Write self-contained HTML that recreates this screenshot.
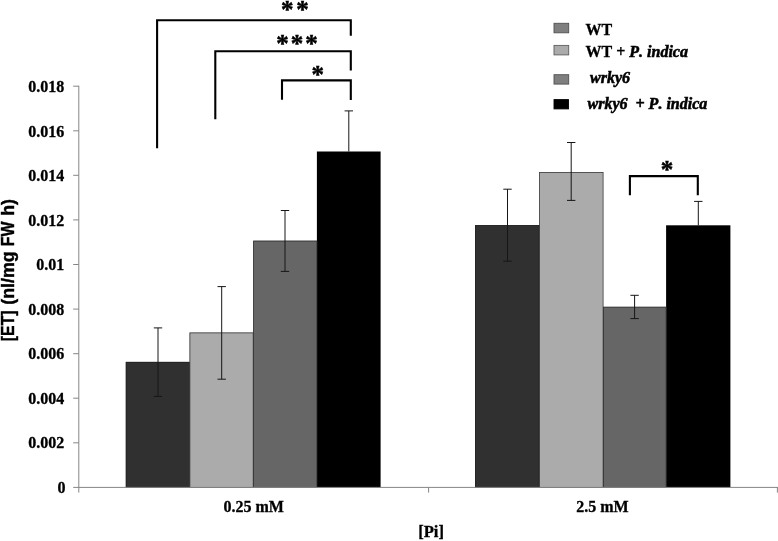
<!DOCTYPE html>
<html lang="en">
<head>
<meta charset="utf-8">
<title>[ET] vs [Pi] bar chart</title>
<style>
  html, body { margin: 0; padding: 0; background: #ffffff; }
  body { width: 778px; height: 541px; overflow: hidden; }
  svg { display: block; }
  .serif { font-family: "Liberation Serif", "DejaVu Serif", serif; font-weight: bold; fill: #000; stroke: #000; stroke-width: 0.3px; }
  .sans  { font-family: "Liberation Sans", "DejaVu Sans", sans-serif; font-weight: bold; fill: #000; stroke: #000; stroke-width: 0.4px; }
  .tick  { font-size: 16px; text-anchor: end; }
  .cat   { font-size: 16px; text-anchor: middle; }
  .leg   { font-size: 16px; }
  .star  { font-size: 25px; text-anchor: middle; stroke-width: 0.5px; }
  .it    { font-style: italic; stroke-width: 0.55px; }
  text   { font-kerning: none; }
</style>
</head>
<body>
<svg width="778" height="541" viewBox="0 0 778 541">
  <rect x="0" y="0" width="778" height="541" fill="#ffffff"/>

  <!-- bars -->
  <g stroke-width="0.8">
    <rect x="125.8" y="361.9" width="63.7" height="125.6" fill="#303030" stroke="none"/>
    <rect x="189.5" y="332.5" width="63.7" height="155.0" fill="#ababab" stroke="none"/>
    <rect x="253.2" y="240.7" width="63.7" height="246.8" fill="#666666" stroke="none"/>
    <rect x="316.9" y="151.5" width="63.7" height="336.0" fill="#000000" stroke="none"/>
    <rect x="475.0" y="225.1" width="64.2" height="262.4" fill="#303030" stroke="none"/>
    <rect x="539.2" y="172.1" width="63.9" height="315.4" fill="#ababab" stroke="none"/>
    <rect x="603.1" y="306.8" width="63.0" height="180.7" fill="#666666" stroke="none"/>
    <rect x="666.1" y="225.3" width="64.3" height="262.2" fill="#000000" stroke="none"/>
    <rect x="126.2" y="362.3" width="63.3" height="125.2" fill="none" stroke="#222222"/>
    <rect x="189.9" y="332.9" width="63.3" height="154.6" fill="none" stroke="#3c3c3c"/>
    <rect x="253.6" y="241.1" width="63.3" height="246.4" fill="none" stroke="#333333"/>
    <rect x="475.4" y="225.5" width="63.8" height="262.0" fill="none" stroke="#222222"/>
    <rect x="539.6" y="172.5" width="63.5" height="315.0" fill="none" stroke="#3c3c3c"/>
    <rect x="603.5" y="307.2" width="62.6" height="180.3" fill="none" stroke="#333333"/>
  </g>

  <!-- axes -->
  <g stroke="#868686" stroke-width="1" fill="none">
    <line x1="78.8" y1="85.7" x2="78.8" y2="492.6"/>
    <line x1="73.2" y1="487.4" x2="778" y2="487.4"/>
    <line x1="428.6" y1="487.4" x2="428.6" y2="492.6"/>
    <line x1="777.4" y1="487.4" x2="777.4" y2="492.6"/>
    <line x1="73.2" y1="442.8" x2="78.8" y2="442.8"/>
    <line x1="73.2" y1="398.2" x2="78.8" y2="398.2"/>
    <line x1="73.2" y1="353.7" x2="78.8" y2="353.7"/>
    <line x1="73.2" y1="309.1" x2="78.8" y2="309.1"/>
    <line x1="73.2" y1="264.5" x2="78.8" y2="264.5"/>
    <line x1="73.2" y1="219.9" x2="78.8" y2="219.9"/>
    <line x1="73.2" y1="175.3" x2="78.8" y2="175.3"/>
    <line x1="73.2" y1="130.8" x2="78.8" y2="130.8"/>
    <line x1="73.2" y1="86.2" x2="78.8" y2="86.2"/>
  </g>

  <!-- error bars -->
  <g stroke="#161616" stroke-width="1" fill="none">
    <path d="M158.0 327.9V396.4 M153.8 327.9H162.2 M153.8 396.4H162.2"/>
    <path d="M221.7 286.6V379.2 M217.5 286.6H225.9 M217.5 379.2H225.9"/>
    <path d="M285.0 210.5V271.4 M280.8 210.5H289.2 M280.8 271.4H289.2"/>
    <path d="M348.8 110.9V151.5 M344.6 110.9H353.0"/>
    <path d="M507.5 189.2V261.2 M503.3 189.2H511.7 M503.3 261.2H511.7"/>
    <path d="M571.2 142.5V200.4 M567.0 142.5H575.4 M567.0 200.4H575.4"/>
    <path d="M634.6 295.3V318.6 M630.4 295.3H638.8 M630.4 318.6H638.8"/>
    <path d="M698.3 201.4V225.3 M694.1 201.4H702.5"/>
  </g>

  <!-- significance brackets -->
  <g stroke="#000" stroke-width="2.1" fill="none" stroke-linejoin="miter">
    <path d="M157.1 148.3V20.3H350.8V35.7"/>
    <path d="M215.3 119.2V51.2H350.8V70.5"/>
    <path d="M282 99.7V80.4H350.8V99.9"/>
    <path d="M629.9 195.2V176.1H697.8V195.2"/>
  </g>
  <g class="serif star">
    <text x="296.2" y="17.8" letter-spacing="2.8">**</text>
    <text x="298" y="52" letter-spacing="2">***</text>
    <text x="317.8" y="83">*</text>
    <text x="667" y="178.2">*</text>
  </g>

  <!-- y tick labels -->
  <g class="serif tick">
    <text x="64.2" y="92">0.018</text>
    <text x="64.2" y="136.5">0.016</text>
    <text x="64.2" y="181">0.014</text>
    <text x="64.2" y="225.5">0.012</text>
    <text x="64.2" y="270">0.01</text>
    <text x="64.2" y="314.5">0.008</text>
    <text x="64.2" y="359">0.006</text>
    <text x="64.2" y="403.5">0.004</text>
    <text x="64.2" y="448">0.002</text>
    <text x="65.5" y="492.8">0</text>
  </g>

  <!-- category labels -->
  <g class="serif cat">
    <text x="253.6" y="512.2">0.25 mM</text>
    <text x="602.4" y="512.2">2.5 mM</text>
    <text x="431.1" y="537.4" font-size="16.6">[Pi]</text>
  </g>

  <!-- y axis title -->
  <g class="sans" font-size="17.5">
    <text transform="translate(14.4 341.3) rotate(-90) scale(0.903 1)">[ET]</text>
    <text transform="translate(14.4 304.7) rotate(-90) scale(1.019 1)">(nl/mg</text>
    <text transform="translate(14.4 246.2) rotate(-90) scale(0.904 1)">FW</text>
    <text transform="translate(14.4 215.8) rotate(-90) scale(1.013 1)">h)</text>
  </g>

  <!-- legend -->
  <g stroke-width="0.9">
    <rect x="554" y="23.3" width="14.7" height="9.5" fill="#7f7f7f" stroke="#505050"/>
    <rect x="554" y="45.4" width="14.7" height="9.5" fill="#ababab" stroke="#5e5e5e"/>
    <rect x="554" y="74.7" width="14.7" height="9.4" fill="#7f7f7f" stroke="#505050"/>
    <rect x="554" y="99.6" width="14.5" height="9.3" fill="#000000" stroke="#000000"/>
  </g>
  <g class="serif leg">
    <text x="585.5" y="35">WT</text>
    <text x="585.5" y="57">WT + <tspan class="it">P. indica</tspan></text>
    <text x="590" y="83.2" class="it">wrky6</text>
    <text x="587.5" y="108.7" class="it" xml:space="preserve">wrky6  + P. indica</text>
  </g>
</svg>
</body>
</html>
